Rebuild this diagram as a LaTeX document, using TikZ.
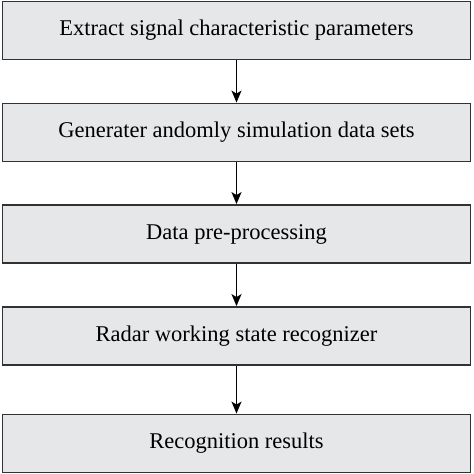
\documentclass[tikz,border=0pt]{standalone}
\usepackage{fontspec}
\setmainfont{Liberation Serif}
\usepackage{tikz}
\usetikzlibrary{arrows.meta,positioning,calc}
\definecolor{boxfill}{RGB}{230,231,233}
\definecolor{boxline}{RGB}{50,50,50}

\begin{document}
\begin{tikzpicture}[x=1pt,y=1pt,
  stage/.style={draw=boxline,fill=boxfill,line width=1.8pt,minimum width=468pt,
    minimum height=58pt,inner sep=0pt,font=\fontsize{22.5}{26}\selectfont},
  flow/.style={-{Stealth[length=12pt,width=10pt,inset=3pt]},line width=1.4pt,black}]
\useasboundingbox (0,0) rectangle (474,474);
\node[stage] (extract) at (236.5,443.5) {Extract signal characteristic parameters};
\node[stage] (generate) at (236.5,341.5) {Generater andomly simulation data sets};
\node[stage] (preproc) at (236.5,240) {Data pre-processing};
\node[stage] (recog) at (236.5,138) {Radar working state recognizer};
\node[stage] (result) at (236.5,30.5) {Recognition results};
\draw[flow] (extract) -- (generate);
\draw[flow] (generate) -- (preproc);
\draw[flow] (preproc) -- (recog);
\draw[flow] (recog) -- (result);
\end{tikzpicture}
\end{document}
